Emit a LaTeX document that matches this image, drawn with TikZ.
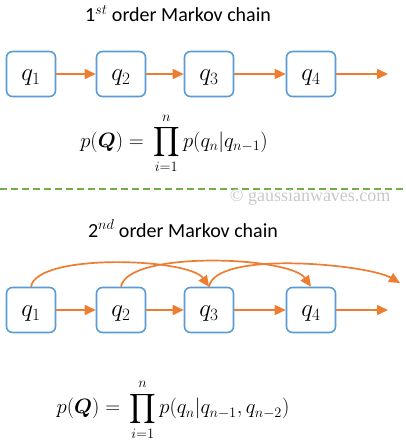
\documentclass[tikz,border=0pt]{standalone}
\usepackage{amsmath}
\usepackage{fontspec}
\setmainfont{Carlito}
\newfontfamily\wmfont{Liberation Serif}
\usetikzlibrary{arrows.meta}

\definecolor{boxblue}{RGB}{91,155,213}
\definecolor{flowred}{RGB}{237,125,49}
\definecolor{cutgreen}{RGB}{112,173,71}
\definecolor{markgray}{RGB}{200,200,200}

\tikzset{
	qbox/.style = {draw = boxblue, line width = 1.6pt, rounded corners = 6pt,
		minimum width = 49pt, minimum height = 45pt, inner sep = 0pt,
		text height = 17pt, text depth = 4pt, font = \fontsize{23}{26}\selectfont},
	flow/.style = {->, line width = 1.7pt, flowred},
	title/.style = {anchor = base, font = \fontsize{20}{24}\selectfont},
	formula/.style = {font = \fontsize{20.5}{24}\selectfont}
}

\begin{document}
\begin{tikzpicture}[x = 1pt, y = -1pt, > = {Triangle[length = 11pt, width = 10pt]}]

	\useasboundingbox (0, 0) rectangle (406, 444);

	% First order chain

	\node [title] (t1) at (178, 22) {1$^{st}$ order Markov chain};

	\node [qbox] (a1) at (31, 74) {$q_1$};
	\node [qbox] (a2) at (121, 74) {$q_2$};
	\node [qbox] (a3) at (209, 74) {$q_3$};
	\node [qbox] (a4) at (311, 74) {$q_4$};
	\coordinate (a5) at (388, 74);

	\begin{scope}[flow]

		\draw (a1) -- (a2);
		\draw (a2) -- (a3);
		\draw (a3) -- (a4);
		\draw (a4) -- (a5);

	\end{scope}

	\node [formula] (f1) at (174, 143.5)
		{$\displaystyle p(\boldsymbol{Q}) = \, \prod_{i=1}^{n} p(q_n|q_{n-1})$};

	% Separator and watermark

	\coordinate (cutl) at (0, 189);
	\coordinate (cutr) at (406, 189);
	\draw [cutgreen, line width = 1.4pt, dash pattern = on 7pt off 4pt] (cutl) -- (cutr);

	\node [markgray, anchor = base east, font = \wmfont\fontsize{18}{21}\selectfont] (wm) at (394, 201)
		{\textcopyright{} gaussianwaves.com};

	% Second order chain

	\node [title] (t2) at (183, 237) {2$^{nd}$ order Markov chain};

	\node [qbox] (b1) at (31, 310) {$q_1$};
	\node [qbox] (b2) at (121, 310) {$q_2$};
	\node [qbox] (b3) at (209, 310) {$q_3$};
	\node [qbox] (b4) at (311, 310) {$q_4$};
	\coordinate (b5) at (388, 310);
	\coordinate (b6) at (400, 283);

	\begin{scope}[flow]

		\draw (b1) -- (b2);
		\draw (b2) -- (b3);
		\draw (b3) -- (b4);
		\draw (b4) -- (b5);

		\draw (b1.north) to [out = 80, in = 125, looseness = 0.5] (b3.north);
		\draw (b2.north) to [out = 80, in = 125, looseness = 0.5] (b4.north);
		\draw (b3.north) to [out = 80, in = 150, looseness = 0.5] (b6);

	\end{scope}

	\node [formula] (f2) at (173, 410)
		{$\displaystyle p(\boldsymbol{Q}) = \, \prod_{i=1}^{n} p(q_n|q_{n-1}, q_{n-2})$};

\end{tikzpicture}
\end{document}
